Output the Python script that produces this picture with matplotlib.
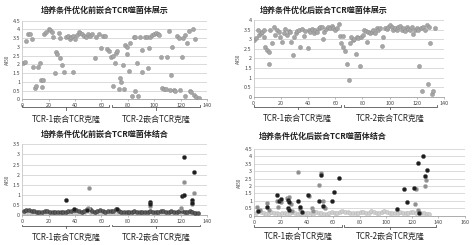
import numpy as np
import matplotlib
matplotlib.use('Agg')
import matplotlib.pyplot as plt

plt.rcParams['font.family'] = ['Noto Sans CJK SC', 'DejaVu Sans']

# 展示 - before optimisation
p1_x = [0.8, 1.8, 2.8, 4.3, 5.8, 7.3, 7.8, 9.5, 10.3, 11.8,
        13.3, 13.8, 14.8, 15.8, 16.8, 18.3, 20.3, 21.3, 22.3, 23.3,
        24.8, 25.3, 26.3, 27.5, 28.3, 28.8, 30.3, 31.3, 32.8, 34.3,
        35.8, 37, 38.3, 38.8, 40.3, 41.5, 42.8, 44, 45, 47,
        48.5, 50, 51.5, 53, 55, 56, 58, 59.5, 61, 62.8,
        64.5, 66, 67.3, 68.6, 69, 70.4, 71, 72, 73, 74,
        74.7, 76, 77, 78, 79, 79.5, 80.8, 81.8, 83, 84.3,
        85.6, 85.8, 86.8, 88, 89.4, 90.4, 91.1, 93.2, 94.5, 95.2,
        96, 97, 98, 99.5, 101, 102.5, 103.5, 105, 106, 107.5,
        109, 110, 111, 112, 112.7, 113.4, 114.7, 116, 117, 118.5,
        119.7, 121, 121.8, 123, 123.5, 124.8, 126, 127.3, 128, 129.4,
        130, 131, 132, 133.7]
p1_y = [2.06, 2.16, 3.34, 3.74, 3.74, 3.45, 1.83, 0.67, 0.78, 1.83,
        2.06, 1.10, 0.72, 1.10, 3.74, 3.87, 4.03, 3.97, 3.87, 3.55,
        1.49, 2.69, 2.60, 3.80, 3.49, 2.35, 1.97, 1.58, 3.55, 3.62,
        3.45, 3.58, 3.62, 1.58, 3.45, 3.70, 3.88, 3.80, 3.72, 3.62,
        3.55, 3.72, 3.62, 3.75, 2.35, 3.57, 3.72, 2.92, 3.64, 3.62,
        2.88, 2.79, 2.40, 2.50, 0.76, 2.06, 2.65, 2.79, 0.59, 1.22,
        0.97, 1.98, 0.59, 3.10, 2.98, 2.60, 1.64, 3.20, 0.21, 3.55,
        3.59, 0.50, 2.06, 0.21, 3.59, 2.82, 1.58, 3.59, 3.58, 1.79,
        2.92, 3.56, 3.68, 3.74, 3.78, 3.72, 3.68, 2.44, 0.62, 0.60,
        0.58, 2.44, 3.93, 0.53, 1.41, 2.98, 0.55, 0.46, 3.64, 3.50,
        0.53, 2.44, 3.50, 3.70, 0.21, 3.20, 3.93, 0.45, 0.40, 4.03,
        0.27, 3.45, 0.12, 0.08]

# 展示 - after optimisation
p2_x = [0.5, 2, 3, 4, 5.4, 6.4, 7.3, 7.8, 8.6, 10,
        11, 11.5, 12.2, 13.5, 14.7, 16, 17, 18.4, 19.6, 20.8,
        22, 23.2, 24.5, 25.7, 27, 27.7, 28.9, 29.9, 30.8, 31.8,
        33, 34.3, 35.5, 36.7, 38, 39.6, 40.4, 41.6, 42.8, 44,
        45.3, 46.5, 47.7, 49, 50, 51, 52, 53.4, 54.3, 55.8,
        57.3, 58.7, 60, 61.2, 62.4, 63.6, 64.4, 65.6, 66, 67.3,
        68.5, 69.8, 70.5, 71.5, 73, 74, 75.4, 75.9, 77, 78.3,
        78.8, 80.3, 81.2, 82.7, 83.7, 84.4, 85.7, 86.9, 88, 89.3,
        90.5, 91.8, 93, 94.7, 95.4, 96.7, 97.9, 99, 100.3, 101.6,
        102.8, 104, 105.2, 106.5, 107.7, 109, 110, 111.4, 112.6, 113.8,
        115, 116.2, 117.5, 118.7, 120, 121, 121.9, 122.9, 123.6, 124.8,
        126, 127.3, 128, 128.7, 129.7, 131, 131.7, 133.4]
p2_y = [2.96, 3.04, 3.48, 3.20, 3.30, 3.40, 3.48, 3.10, 2.57, 2.43,
        2.31, 1.69, 3.48, 2.78, 3.62, 3.20, 3.48, 3.40, 3.13, 2.87,
        3.30, 3.51, 3.20, 3.44, 3.40, 2.87, 2.17, 3.13, 3.30, 3.44,
        3.48, 2.57, 3.51, 3.17, 3.44, 2.52, 3.48, 3.40, 3.51, 3.30,
        3.48, 3.40, 3.57, 3.62, 3.62, 2.99, 3.40, 3.51, 3.65, 3.57,
        3.69, 3.60, 3.48, 3.57, 3.77, 3.17, 2.82, 3.17, 2.57, 2.38,
        1.69, 0.87, 2.82, 3.13, 2.96, 2.99, 2.23, 3.10, 3.04, 1.62,
        3.13, 3.20, 3.48, 3.44, 2.87, 3.40, 3.30, 3.40, 3.48, 3.34,
        3.57, 3.48, 3.57, 2.64, 3.10, 3.57, 3.51, 3.65, 3.74, 3.62,
        3.48, 3.57, 3.48, 3.65, 3.69, 3.48, 3.57, 3.44, 3.65, 3.51,
        3.48, 3.62, 3.27, 3.48, 3.57, 3.48, 1.60, 3.57, 0.31, 3.62,
        3.48, 3.74, 0.66, 3.62, 2.82, 0.14, 0.31, 3.57]

# 结合 - baseline clones (every second clone)
base_x = np.arange(1, 134, 2)
p3_dark_base = [0.22, 0.24, 0.23, 0.20, 0.18, 0.15, 0.14, 0.16, 0.20, 0.18,
                0.14, 0.13, 0.15, 0.14, 0.16, 0.15, 0.17, 0.18, 0.20, 0.25,
                0.24, 0.20, 0.17, 0.22, 0.30, 0.28, 0.20, 0.15, 0.18, 0.24,
                0.22, 0.16, 0.18, 0.20, 0.22, 0.28, 0.20, 0.15, 0.14, 0.16,
                0.15, 0.14, 0.18, 0.16, 0.14, 0.15, 0.14, 0.16, 0.18, 0.15,
                0.14, 0.17, 0.22, 0.18, 0.15, 0.16, 0.20, 0.17, 0.16, 0.18,
                0.20, 0.16, 0.17, 0.20, 0.15, 0.12, 0.10]
p3_light_base = [0.12, 0.10, 0.11, 0.09, 0.10, 0.12, 0.08, 0.10, 0.11, 0.09,
                 0.10, 0.12, 0.10, 0.08, 0.11, 0.10, 0.09, 0.12, 0.10, 0.11,
                 0.13, 0.10, 0.09, 0.12, 0.18, 0.14, 0.10, 0.09, 0.11, 0.12,
                 0.10, 0.09, 0.10, 0.11, 0.12, 0.10, 0.09, 0.10, 0.08, 0.10,
                 0.11, 0.09, 0.10, 0.12, 0.10, 0.09, 0.11, 0.10, 0.09, 0.10,
                 0.12, 0.10, 0.11, 0.09, 0.10, 0.12, 0.10, 0.09, 0.11, 0.10,
                 0.12, 0.10, 0.09, 0.11, 0.10, 0.08, 0.07]
p3_black_x = [32.8, 39.5, 49, 71.8, 96.8, 96.8, 121.3, 122.3, 122.8, 128.6, 128.8, 129.8]
p3_black_y = [0.72, 0.28, 0.25, 0.32, 0.62, 0.56, 0.92, 0.97, 2.85, 0.72, 0.60, 2.15]
p3_gray_x = [50.5, 49.5, 96.8, 120.5, 122.8, 129.8, 128.8]
p3_gray_y = [1.35, 0.36, 0.44, 0.36, 1.65, 1.11, 0.52]

p4_light_base = [0.15, 0.30, 0.22, 0.18, 0.14, 0.20, 0.25, 0.18, 0.15, 0.12,
                 0.16, 0.20, 0.14, 0.18, 0.22, 0.15, 0.12, 0.16, 0.14, 0.20,
                 0.18, 0.15, 0.14, 0.22, 0.18, 0.16, 0.14, 0.12, 0.18, 0.22,
                 0.20, 0.18, 0.24, 0.32, 0.28, 0.22, 0.18, 0.20, 0.16, 0.18,
                 0.22, 0.26, 0.20, 0.16, 0.30, 0.24, 0.18, 0.16, 0.26, 0.32,
                 0.22, 0.18, 0.20, 0.16, 0.18, 0.22, 0.20, 0.16, 0.18, 0.24,
                 0.28, 0.20, 0.22, 0.18, 0.16, 0.14, 0.12]
p4_black_x = [2.5, 9.4, 17.6, 19, 20.4, 25.4, 26, 26.7, 26.5, 33.6,
              34.9, 36, 41, 49.4, 51, 52.2, 59, 60.3, 64.6, 108.4,
              114.2, 116.2, 121.8, 124.3, 125.6, 128.4, 130, 131.4]
p4_black_y = [0.35, 0.60, 1.42, 1.00, 1.10, 1.05, 0.55, 0.92, 0.40, 0.97,
              0.62, 0.24, 1.42, 0.97, 2.75, 0.64, 1.00, 1.57, 2.52, 0.48,
              1.78, 0.93, 1.85, 3.55, 0.18, 4.00, 2.70, 3.05]
p4_gray_x = [2.3, 4, 9.4, 11, 17, 18.3, 20, 24.7, 26.5, 27.7,
             28.5, 33.6, 34.9, 41.5, 43.8, 45, 49.4, 51, 52, 53.3,
             54, 122, 123, 124.8, 129.8, 130.6]
p4_gray_y = [0.62, 0.40, 0.88, 0.40, 1.00, 0.58, 0.90, 1.22, 1.25, 0.82,
             0.30, 2.98, 0.45, 1.30, 0.50, 0.33, 2.08, 2.85, 1.00, 0.58,
             0.55, 0.78, 1.78, 0.38, 1.98, 2.38]

titles = ['培养条件优化前嵌合TCR噬菌体展示', '培养条件优化后嵌合TCR噬菌体展示',
          '培养条件优化前嵌合TCR噬菌体结合', '培养条件优化后嵌合TCR噬菌体结合']
group_labels = ['TCR-1嵌合TCR克隆', 'TCR-2嵌合TCR克隆']

W, H = 474, 245
fig = plt.figure(figsize=(W / 100, H / 100), dpi=100)


def make_ax(l, r, t, b, xmax, ymax):
    ax = fig.add_axes([l / W, 1 - b / H, (r - l) / W, (b - t) / H])
    ax.set_xlim(0, xmax)
    ax.set_ylim(0, ymax)
    ax.set_xticks(np.arange(0, xmax + 1, 20))
    yt = np.arange(0, ymax + 0.01, 0.5)
    ax.set_yticks(yt)
    ax.set_yticklabels(['%g' % v for v in yt])
    ax.grid(axis='y', color='#d4d4d4', lw=0.6)
    ax.set_axisbelow(True)
    for s in ['top', 'right']:
        ax.spines[s].set_visible(False)
    ax.spines['left'].set_color('#c8c8c8')
    ax.spines['bottom'].set_color('#a0a0a0')
    ax.spines['left'].set_linewidth(0.6)
    ax.spines['bottom'].set_linewidth(0.6)
    ax.tick_params(axis='both', labelsize=3.9, length=1.5, width=0.5,
                   color='#a0a0a0', pad=1.5, labelcolor='#444444')
    ax.tick_params(axis='y', length=0)
    ax.set_ylabel('A450', fontsize=3.3, labelpad=2, color='#444444')
    return ax


def brackets(ax, spans, ybr, ylab):
    tr = ax.get_xaxis_transform()
    for (a, b), lab in zip(spans, group_labels):
        m = (a + b) / 2
        ax.plot([a, a, b, b], [ybr + 0.025, ybr, ybr, ybr + 0.025], color='#555555',
                lw=0.6, transform=tr, clip_on=False)
        ax.plot([m, m], [ybr, ybr - 0.03], color='#555555', lw=0.6,
                transform=tr, clip_on=False)
        ax.text(m, ylab, lab, transform=tr, ha='center', va='center',
                fontsize=5.8, color='#222222')


gray_kw = dict(s=9, c='#a6a6a6', edgecolors='#8a8a8a', linewidths=0.3, zorder=3)
light_kw = dict(s=8, c='#cfcfcf', edgecolors='#b0b0b0', linewidths=0.3, zorder=3)
mid_kw = dict(s=9, c='#8e8e8e', edgecolors='#b8b8b8', linewidths=0.4, zorder=4)
black_kw = dict(s=9, c='#1e1e1e', edgecolors='#555555', linewidths=0.3, zorder=5)
dark_kw = dict(s=8, c='#5a5a5a', edgecolors='#2a2a2a', linewidths=0.3, zorder=3)

# panel 1
ax1 = make_ax(22.3, 207, 20.7, 99.3, 140, 4.5)
ax1.scatter(p1_x, p1_y, **gray_kw)
brackets(ax1, [(0, 66), (68, 135)], -0.1, -0.25)
fig.text(105 / W, 1 - 10 / H, titles[0], ha='center', va='center', fontsize=5.8,
         fontweight='bold', color='#222222')

# panel 2
ax2 = make_ax(253.7, 444, 20, 96.7, 140, 4.0)
ax2.scatter(p2_x, p2_y, **gray_kw)
brackets(ax2, [(0, 64.5), (66.5, 134.5)], -0.13, -0.28)
fig.text(260 / W, 1 - 10 / H, titles[1], ha='left', va='center', fontsize=5.8,
         fontweight='bold', color='#222222')

# panel 3
ax3 = make_ax(22.3, 207, 144.3, 215, 140, 3.5)
ax3.scatter(base_x, p3_light_base, **light_kw)
ax3.scatter(base_x, p3_dark_base, **dark_kw)
ax3.scatter(p3_gray_x, p3_gray_y, **mid_kw)
ax3.scatter(p3_black_x, p3_black_y, **black_kw)
brackets(ax3, [(0, 66), (68, 135)], -0.16, -0.32)
fig.text(105 / W, 1 - 134 / H, titles[2], ha='center', va='center', fontsize=5.8,
         fontweight='bold', color='#222222')

# panel 4
ax4 = make_ax(254.3, 464.7, 149, 215.7, 160, 4.5)
ax4.scatter(base_x, p4_light_base, **light_kw)
ax4.scatter(p4_gray_x, p4_gray_y, **mid_kw)
ax4.scatter(p4_black_x, p4_black_y, **black_kw)
brackets(ax4, [(0, 67), (68.5, 138.5)], -0.17, -0.31)
fig.text(259 / W, 1 - 136.5 / H, titles[3], ha='left', va='center', fontsize=5.8,
         fontweight='bold', color='#222222')

fig.savefig('out.png', dpi=100)
